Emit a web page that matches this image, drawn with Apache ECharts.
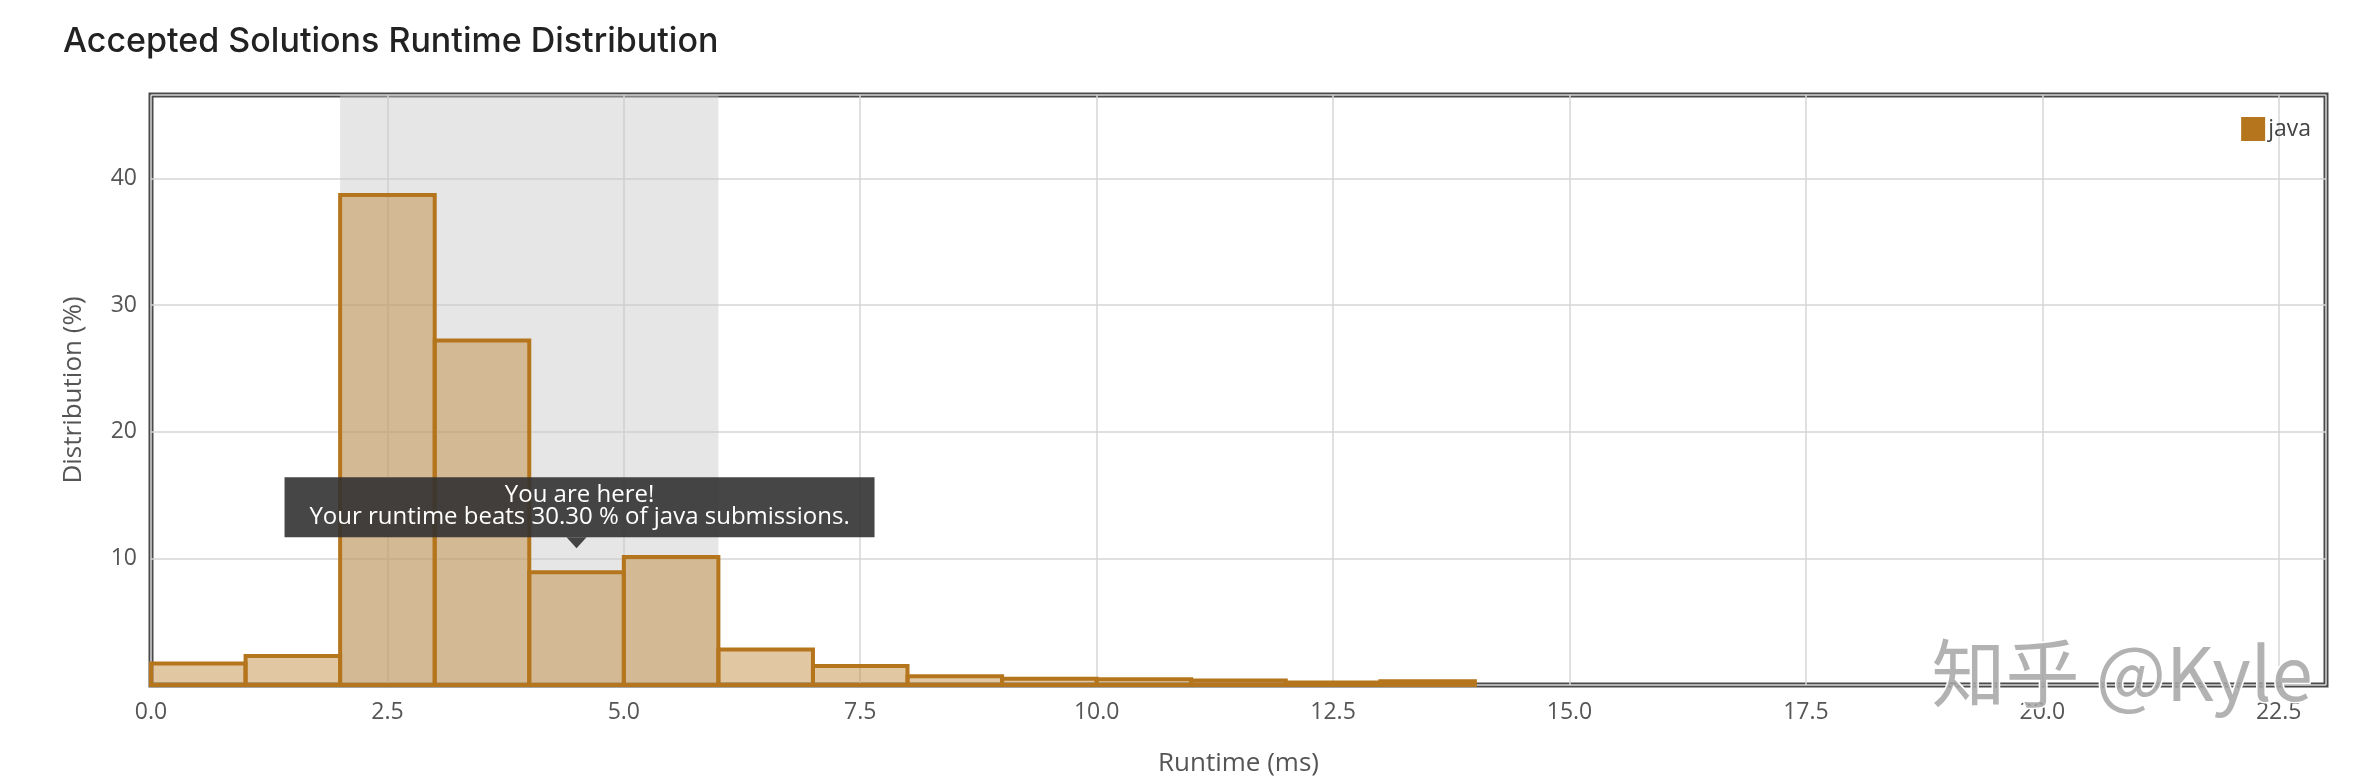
<!DOCTYPE html>
<html><head><meta charset="utf-8">
<script src="https://cdn.jsdelivr.net/npm/echarts@6/dist/echarts.min.js"></script>
<style>html,body{margin:0;padding:0;background:#fff}#c{width:2368px;height:782px}</style>
</head><body><div id="c"></div>
<script>
const binStarts = [0,1,2,3,4,5,6,7,8,9,10,11,12,13];
const binWidth = 1;
const values = [1.7,2.3,38.7,27.2,8.9,10.1,2.8,1.5,0.7,0.5,0.45,0.35,0.2,0.3];
const bandRange = [2,6];
const yTicks = [10,20,30,40];
const tipPoint = [4.5,10.8];
const tipLines = ['You are here!','Your runtime beats 30.30 % of java submissions.'];

const chart = echarts.init(document.getElementById('c'));
const data = binStarts.map((s,i)=>[s, s+binWidth, values[i]]);
const F = '"Open Sans", Roboto, sans-serif';
chart.setOption({
  animation:false,
  title:{text:'Accepted Solutions Runtime Distribution',left:58,top:20,textStyle:{fontSize:34,fontWeight:500,color:'#222',fontFamily:'Inter, Roboto, sans-serif'}},
  legend:{data:[{name:'java',icon:'rect'}],right:52,top:112,itemWidth:24,itemHeight:24,itemGap:4,
    textStyle:{fontSize:23,color:'#444',fontFamily:F,padding:[0,0,0,-2]}},
  grid:{left:151,right:42,top:95,bottom:83,show:true,borderColor:'#4a4a4a',borderWidth:5,containLabel:false},
  xAxis:{type:'value',min:0,max:23,interval:2.5,name:'Runtime (ms)',nameLocation:'middle',nameGap:66,
    nameTextStyle:{fontSize:26,color:'#555',fontFamily:F},
    axisLine:{show:false},axisTick:{show:false},
    axisLabel:{fontSize:23,color:'#555',margin:16,fontFamily:F,showMaxLabel:false,formatter:v=>v.toFixed(1)},
    splitLine:{lineStyle:{color:'#d6d6d6',width:1.5}}},
  yAxis:{type:'value',min:0,max:46.6,interval:10,name:'Distribution (%)',nameLocation:'middle',nameGap:64,
    nameTextStyle:{fontSize:26,color:'#555',fontFamily:F},
    axisLine:{show:false},axisTick:{show:false},
    axisLabel:{fontSize:23,color:'#555',margin:14,fontFamily:F,showMaxLabel:false,formatter:v=>yTicks.includes(v)?String(v):''},
    splitLine:{lineStyle:{color:'#d6d6d6',width:1.5}}},
  series:[{
    name:'java',type:'custom',data:data,encode:{x:[0,1],y:2},
    itemStyle:{color:'#b5751c'},
    markArea:{silent:true,itemStyle:{color:'rgba(200,200,200,0.45)'},data:[[{xAxis:bandRange[0]},{xAxis:bandRange[1]}]]},
    renderItem:(params,api)=>{
      const p0=api.coord([api.value(0),api.value(2)]);
      const p1=api.coord([api.value(1),0]);
      return {type:'rect',shape:{x:p0[0],y:p0[1],width:p1[0]-p0[0],height:p1[1]-p0[1]},
        style:{fill:'rgba(190,130,50,0.45)',stroke:'#b5751c',lineWidth:4}};
    }
  }]
});
const pt = chart.convertToPixel({gridIndex:0},tipPoint);
const w=590,h=60;
chart.setOption({graphic:[
  {type:'rect',shape:{x:pt[0]-w/2+3,y:pt[1]-h-11,width:w,height:h},style:{fill:'rgba(50,50,50,0.9)'},z:100},
  {type:'polygon',shape:{points:[[pt[0]-10,pt[1]-11],[pt[0]+10,pt[1]-11],[pt[0],pt[1]]]},style:{fill:'rgba(50,50,50,0.9)'},z:100},
  {type:'text',x:pt[0]+3,y:pt[1]-h-4,z:101,style:{text:tipLines.join('\n'),align:'center',verticalAlign:'top',fill:'#fff',fontSize:24,lineHeight:22,fontFamily:F}},
  {type:'text',left:1930,top:634,z:102,style:{text:'知乎 @Kyle',fill:'rgba(165,165,165,0.85)',stroke:'#fff',lineWidth:3,fontSize:74,fontFamily:'"Noto Sans CJK SC", sans-serif'}}
]});
</script></body></html>
